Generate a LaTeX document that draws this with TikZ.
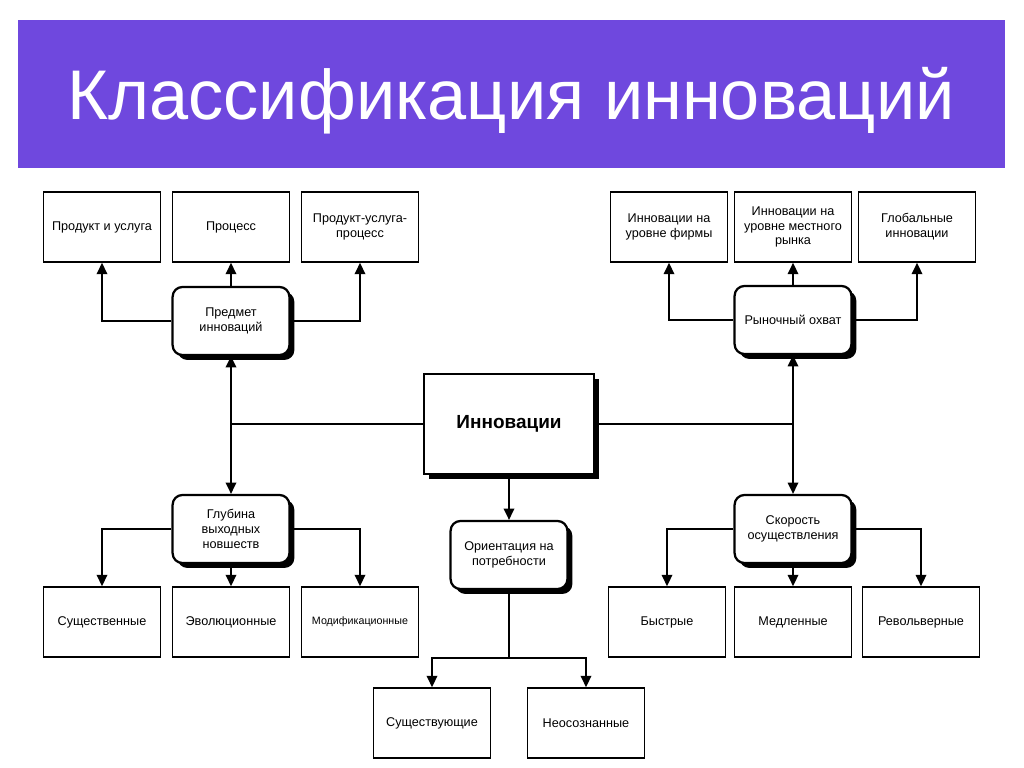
\documentclass[tikz,border=0pt]{standalone}
\usepackage{fontspec}
\setmainfont{Liberation Sans}
\usetikzlibrary{arrows.meta,shadows}
\definecolor{BannerPurple}{RGB}{111,72,222}

\begin{document}
\begin{tikzpicture}[x=0.025cm,y=-0.025cm,>={Triangle[length=8pt,width=7.5pt]},
  box/.style={draw,line width=1.2pt,fill=white,minimum width=2.92cm,minimum height=1.75cm,
    inner sep=2pt,align=center,font=\fontsize{9}{10.5}\selectfont},
  rbox/.style={box,line width=1.6pt,rounded corners=7pt,minimum height=1.7cm,
    drop shadow={shadow xshift=3.5pt,shadow yshift=-3.5pt,fill=black,opacity=1}},
  link/.style={line width=1.2pt}]
\useasboundingbox (0,0) rectangle (1024,768);

\fill[BannerPurple] (18,20) rectangle (1005,168);
\node[anchor=base,text=white,font=\fontsize{50}{60}\selectfont] (title) at (511,120) {Классификация инноваций};

% centre
\node[box,minimum width=4.25cm,minimum height=2.5cm,font=\fontsize{13.5}{16}\selectfont\bfseries,
  drop shadow={shadow xshift=3.5pt,shadow yshift=-3.5pt,fill=black,opacity=1}] (inn) at (509,424) {Инновации};

% subject of innovation
\node[rbox] (subj) at (231,321) {Предмет\\инноваций};
\node[box] (p1) at (102,227) {Продукт и услуга};
\node[box] (p2) at (231,227) {Процесс};
\node[box] (p3) at (360,227) {Продукт-услуга-\\процесс};

% market coverage
\node[rbox] (mkt) at (793,320) {Рыночный охват};
\node[box] (m1) at (669,227) {Инновации на\\уровне фирмы};
\node[box] (m2) at (793,227) {Инновации на\\уровне местного\\рынка};
\node[box] (m3) at (917,227) {Глобальные\\инновации};

% depth
\node[rbox] (depth) at (231,529) {Глубина\\выходных\\новшеств};
\node[box] (d1) at (102,622) {Существенные};
\node[box] (d2) at (231,622) {Эволюционные};
\node[box,font=\fontsize{7.6}{9}\selectfont] (d3) at (360,622) {Модификационные};

% speed
\node[rbox] (speed) at (793,529) {Скорость\\осуществления};
\node[box] (s1) at (667,622) {Быстрые};
\node[box] (s2) at (793,622) {Медленные};
\node[box] (s3) at (921,622) {Револьверные};

% needs
\node[rbox] (need) at (509,555) {Ориентация на\\потребности};
\node[box] (n1) at (432,723) {Существующие};
\node[box] (n2) at (586,723) {Неосознанные};
\coordinate (fork) at (509,658);

\draw[link,->] (subj.west) -| (p1.south);
\draw[link,->] (subj.north) -- (p2.south);
\draw[link,->] (subj.east) -| (p3.south);

\draw[link,->] (mkt.west) -| (m1.south);
\draw[link,->] (mkt.north) -- (m2.south);
\draw[link,->] (mkt.east) -| (m3.south);

\draw[link] (inn.west) -- (subj |- inn);
\draw[link] (inn.east) -- (mkt |- inn);
\draw[link,<->] (subj.south) -- (depth.north);
\draw[link,<->] (mkt.south) -- (speed.north);
\draw[link,->] (inn.south) -- (need.north);

\draw[link,->] (depth.west) -| (d1.north);
\draw[link,->] (depth.south) -- (d2.north);
\draw[link,->] (depth.east) -| (d3.north);

\draw[link,->] (speed.west) -| (s1.north);
\draw[link,->] (speed.south) -- (s2.north);
\draw[link,->] (speed.east) -| (s3.north);

\draw[link] (need.south) -- (fork);
\draw[link,->] (fork) -| (n1.north);
\draw[link,->] (fork) -| (n2.north);
\end{tikzpicture}
\end{document}
